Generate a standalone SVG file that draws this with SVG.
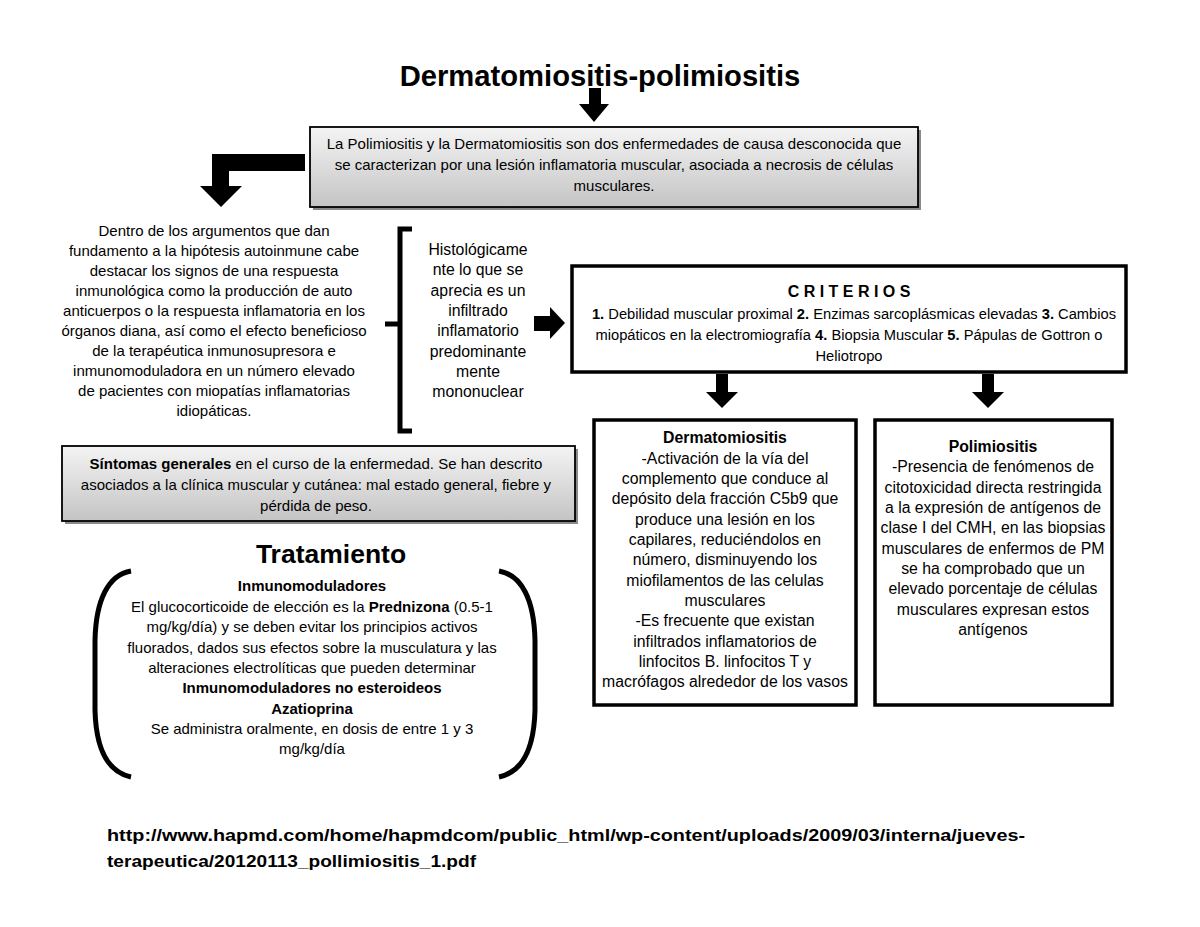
<svg xmlns="http://www.w3.org/2000/svg" width="1200" height="927" viewBox="0 0 1200 927">
<defs>
<linearGradient id="gray" x1="0" y1="0" x2="0" y2="1">
<stop offset="0" stop-color="#f4f4f4"/>
<stop offset="1" stop-color="#c4c4c4"/>
</linearGradient>
<style>
text{font-family:"Liberation Sans",Arial,sans-serif;fill:#000}
.t{font-size:15px;text-anchor:middle}
.l{font-size:15.8px}
.c{font-size:14.7px}
.b{font-weight:bold}
.shadow{fill:#8a8a8a}
.gbox{fill:url(#gray);stroke:#000;stroke-width:1.8}
.wbox{fill:#fff;stroke:#000;stroke-width:3.5}
.arr{fill:#000}
.br{fill:none;stroke:#000;stroke-width:5;stroke-linecap:butt}
</style>
</defs>
<rect width="1200" height="927" fill="#fff"/>

<g id="title">
<text x="600" y="86" font-size="29.2" font-weight="bold" text-anchor="middle">Dermatomiositis-polimiositis</text>
</g>

<g id="connectors">
<polygon class="arr" points="589,88 601,88 601,104 609,104 594,122 579,104 589,104"/>
<polygon class="arr" points="305,154 212,154 212,186 200,186 221,207 242,186 229,186 229,171 305,171"/>
<polygon class="arr" points="534,316 550,316 550,307 565,323 550,339 550,331 534,331"/>
<polygon class="arr" points="716,374 728,374 728,392 738,392 722,408 706,392 716,392"/>
<polygon class="arr" points="982,374 994,374 994,392 1004,392 988,408 972,392 982,392"/>
<path class="br" d="M412,229 L400,229 L400,431 L412,431 M400,324 L385,324"/>
<path class="br" d="M131,571 C108,575 96,600 95,640 L95,710 C96,750 108,772 131,777" stroke-width="6"/>
<path class="br" d="M499,571 C522,575 534,600 535,640 L535,710 C534,750 522,772 499,777" stroke-width="6"/>
</g>

<g id="definicion">
<rect class="shadow" x="313" y="130" width="608" height="80"/>
<rect class="gbox" x="310" y="127" width="608" height="80"/>
<text class="t" x="614" y="149">La Polimiositis y la Dermatomiositis son dos enfermedades de causa desconocida que</text>
<text class="t" x="614" y="170">se caracterizan por una lesión inflamatoria muscular, asociada a necrosis de células</text>
<text class="t" x="614" y="191">musculares.</text>
</g>

<g id="autoinmune">
<text class="t" x="214" y="236">Dentro de los argumentos que dan</text>
<text class="t" x="214" y="256">fundamento a la hipótesis autoinmune cabe</text>
<text class="t" x="214" y="276">destacar los signos de una respuesta</text>
<text class="t" x="214" y="296">inmunológica como la producción de auto</text>
<text class="t" x="214" y="316">anticuerpos o la respuesta inflamatoria en los</text>
<text class="t" x="214" y="336">órganos diana, así como el efecto beneficioso</text>
<text class="t" x="214" y="356">de la terapéutica inmunosupresora e</text>
<text class="t" x="214" y="376">inmunomoduladora en un número elevado</text>
<text class="t" x="214" y="396">de pacientes con miopatías inflamatorias</text>
<text class="t" x="214" y="416">idiopáticas.</text>
</g>

<g id="histologia">
<text class="t l" x="478" y="255">Histológicame</text>
<text class="t l" x="478" y="275">nte lo que se</text>
<text class="t l" x="478" y="296">aprecia es un</text>
<text class="t l" x="478" y="316">infiltrado</text>
<text class="t l" x="478" y="336">inflamatorio</text>
<text class="t l" x="478" y="357">predominante</text>
<text class="t l" x="478" y="377">mente</text>
<text class="t l" x="478" y="397">mononuclear</text>
</g>

<g id="criterios">
<rect class="wbox" x="572" y="266" width="554" height="106" stroke-width="4"/>
<text x="849" y="297" font-size="16" font-weight="bold" text-anchor="middle">C R I T E R I O S</text>
<text class="t c" x="854" y="319"><tspan class="b">1.</tspan> Debilidad muscular proximal <tspan class="b">2.</tspan> Enzimas sarcoplásmicas elevadas <tspan class="b">3.</tspan> Cambios</text>
<text class="t c" x="849" y="340">miopáticos en la electromiografía <tspan class="b">4.</tspan> Biopsia Muscular <tspan class="b">5.</tspan> Pápulas de Gottron o</text>
<text class="t c" x="849" y="361">Heliotropo</text>
</g>

<g id="dermatomiositis">
<rect class="wbox" x="594" y="420" width="262" height="285"/>
<text class="t l b" x="725" y="443">Dermatomiositis</text>
<text class="t l" x="725" y="464">-Activación de la vía del</text>
<text class="t l" x="725" y="484">complemento que conduce al</text>
<text class="t l" x="725" y="504">depósito dela fracción C5b9 que</text>
<text class="t l" x="725" y="525">produce una lesión en los</text>
<text class="t l" x="725" y="545">capilares, reduciéndolos en</text>
<text class="t l" x="725" y="565">número, disminuyendo los</text>
<text class="t l" x="725" y="586">miofilamentos de las celulas</text>
<text class="t l" x="725" y="606">musculares</text>
<text class="t l" x="725" y="626">-Es frecuente que existan</text>
<text class="t l" x="725" y="647">infiltrados inflamatorios de</text>
<text class="t l" x="725" y="667">linfocitos B. linfocitos T y</text>
<text class="t l" x="725" y="687">macrófagos alrededor de los vasos</text>
</g>

<g id="polimiositis">
<rect class="wbox" x="875" y="420" width="237" height="285"/>
<text class="t l b" x="993" y="452">Polimiositis</text>
<text class="t l" x="993" y="472">-Presencia de fenómenos de</text>
<text class="t l" x="993" y="493">citotoxicidad directa restringida</text>
<text class="t l" x="993" y="513">a la expresión de antígenos de</text>
<text class="t l" x="993" y="533">clase I del CMH, en las biopsias</text>
<text class="t l" x="993" y="554">musculares de enfermos de PM</text>
<text class="t l" x="993" y="574">se ha comprobado que un</text>
<text class="t l" x="993" y="594">elevado porcentaje de células</text>
<text class="t l" x="993" y="615">musculares expresan estos</text>
<text class="t l" x="993" y="635">antígenos</text>
</g>

<g id="sintomas">
<rect class="shadow" x="65" y="449" width="513" height="75"/>
<rect class="gbox" x="62" y="446" width="513" height="75"/>
<text class="t" x="316" y="469"><tspan class="b">Síntomas generales</tspan> en el curso de la enfermedad. Se han descrito</text>
<text class="t" x="316" y="490">asociados a la clínica muscular y cutánea: mal estado general, fiebre y</text>
<text class="t" x="316" y="511">pérdida de peso.</text>
</g>

<g id="tratamiento">
<text x="331" y="563" font-size="26.5" font-weight="bold" text-anchor="middle">Tratamiento</text>
<text class="t b" x="312" y="591">Inmunomoduladores</text>
<text class="t" x="312" y="612">El glucocorticoide de elección es la <tspan class="b">Prednizona</tspan> (0.5-1</text>
<text class="t" x="312" y="632">mg/kg/día) y se deben evitar los principios activos</text>
<text class="t" x="312" y="653">fluorados, dados sus efectos sobre la musculatura y las</text>
<text class="t" x="312" y="673">alteraciones electrolíticas que pueden determinar</text>
<text class="t b" x="312" y="693">Inmunomoduladores no esteroideos</text>
<text class="t b" x="312" y="714">Azatioprina</text>
<text class="t" x="312" y="734">Se administra oralmente, en dosis de entre 1 y 3</text>
<text class="t" x="312" y="754">mg/kg/día</text>
</g>

<g id="fuente">
<text x="107" y="841" font-size="17" font-weight="bold" textLength="918" lengthAdjust="spacingAndGlyphs">http://www.hapmd.com/home/hapmdcom/public_html/wp-content/uploads/2009/03/interna/jueves-</text>
<text x="107" y="867" font-size="17" font-weight="bold" textLength="369" lengthAdjust="spacingAndGlyphs">terapeutica/20120113_pollimiositis_1.pdf</text>
</g>
</svg>
